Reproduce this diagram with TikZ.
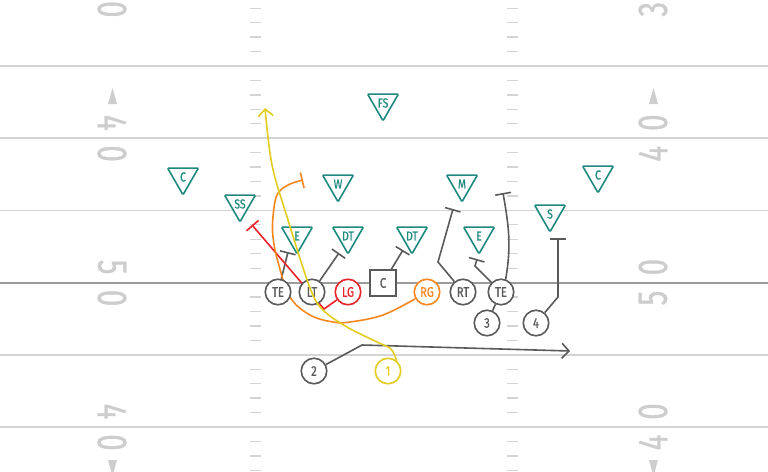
\documentclass[tikz,border=0pt]{standalone}
\usepackage{fontspec}
\setmainfont{Fira Sans}
\newfontfamily\labelfont[FakeStretch=0.8,FakeBold=0.6]{Fira Sans}
\newfontfamily\yardfont[FakeStretch=0.7,FakeBold=0.8]{Fira Sans}
\usepackage{xcolor}
\usetikzlibrary{positioning,arrows.meta,shapes.geometric,backgrounds}

\definecolor{fieldline}{HTML}{D4D4D4}
\definecolor{midline}{HTML}{9C9C9C}
\definecolor{yardnum}{HTML}{CDCDCD}
\definecolor{offgray}{HTML}{5A5A5A}
\definecolor{defteal}{HTML}{1E8A7F}
\definecolor{blockred}{HTML}{E8232B}
\definecolor{pullorange}{HTML}{F5871F}
\definecolor{qbyellow}{HTML}{E2CC1C}

\tikzset{
  player/.style={circle, draw=offgray, fill=white, line width=1.6pt,
    minimum size=25.5pt, inner sep=0pt, text=offgray,
    font=\labelfont\fontsize{14}{14}\selectfont},
  snapbox/.style={rectangle, draw=offgray, fill=white, line width=1.6pt,
    minimum size=25.5pt, inner sep=0pt, text=offgray,
    font=\labelfont\fontsize{14}{14}\selectfont},
  defender/.style={regular polygon, regular polygon sides=3,
    shape border rotate=180, draw=defteal, fill=white, line width=1.6pt,
    minimum size=35.5pt, inner sep=0pt, rounded corners=1pt, text=defteal,
    font=\labelfont\fontsize{13}{13}\selectfont},
  route/.style={draw=offgray, line width=1.6pt},
  block/.style={-{Bar[width=16pt,line width=1.6pt]}},
  runarrow/.style={-{Straight Barb[length=7pt,width=15pt,line width=1.6pt]}},
  yard/.style={text=yardnum, inner sep=0pt,
    font=\yardfont\fontsize{42}{42}\selectfont}
}

\begin{document}
\begin{tikzpicture}[x=1pt,y=-1pt]
    \useasboundingbox (0,0) rectangle (768,471);

    % Defence
    \node[defender] (fs)  at (383,103) {FS};
    \node[defender] (cbl) at (183,177) {C};
    \node[defender] (ss)  at (240,204) {SS};
    \node[defender] (wl)  at (338,184) {W};
    \node[defender] (ml)  at (462,184) {M};
    \node[defender] (cbr) at (598,175) {C};
    \node[defender] (sf)  at (550,214) {S};
    \node[defender] (el)  at (297,236) {E};
    \node[defender] (dtl) at (348,236) {DT};
    \node[defender] (dtr) at (412,236) {DT};
    \node[defender] (er)  at (479,236) {E};

    % Offence
    \node[player] (tel) at (278,292) {TE};
    \node[player] (lt)  at (312,292) {LT};
    \node[player, draw=blockred, text=blockred] (lg) at (348,292) {LG};
    \node[snapbox] (c)  at (383,283) {C};
    \node[player, draw=pullorange, text=pullorange] (rg) at (427,292) {RG};
    \node[player] (rt)  at (463,292) {RT};
    \node[player] (ter) at (501,292) {TE};
    \node[player] (n3)  at (487,323) {3};
    \node[player] (n4)  at (536,323) {4};
    \node[player] (n2)  at (314,371) {2};
    \node[player, draw=qbyellow, text=qbyellow] (n1) at (388,371) {1};

    % Field
    \begin{scope}[on background layer]
        \fill[white] (0,0) rectangle (768,471);
        \foreach \k in {0,...,6} {
            \pgfmathsetmacro{\y}{-6.2 + 72.2*\k}
            \foreach \j in {1,...,4} {
                \pgfmathsetmacro{\h}{\y + 14.44*\j}
                \draw[fieldline, line width=1.3pt] (250,\h) -- (261,\h);
                \draw[fieldline, line width=1.3pt] (507,\h) -- (518,\h);
            }
            \draw[fieldline, line width=1.8pt] (0,\y) -- (768,\y);
        }
        \draw[midline, line width=1.8pt] (0,282.6) -- (768,282.6);

        % Yard numbers
        \foreach \k/\a/\b in {0/3/0, 2/4/0, 4/5/0, 6/4/0} {
            \pgfmathsetmacro{\y}{-6.2 + 72.2*\k}
            \node[yard, rotate=-90] at (112,\y-15.5) {\a};
            \node[yard, rotate=-90] at (112,\y+15.5) {\b};
            \node[yard, rotate=90] at (653,\y+15.5) {\a};
            \node[yard, rotate=90] at (653,\y-15.5) {\b};
        }
        \foreach \x in {112.5,653.5} {
            \fill[yardnum] (\x-4.5,104) -- (\x+4.5,104) -- (\x,88) -- cycle;
            \fill[yardnum] (\x-4.5,460) -- (\x+4.5,460) -- (\x,476) -- cycle;
        }
    \end{scope}

    % Blocks and routes
    \begin{scope}[on background layer]
        \draw[route, block] (tel) -- (288,252);
        \draw[route, block] (lt) -- (339,253);
        \draw[route, block] (c) -- (403,250);
        \draw[route, block] (rt) -- (438,262) -- (453,209);
        \draw[route, block] (ter) -- (475,266) -- (477,259);
        \draw[route, block] (ter.70) to[out=80,in=-80] (503,193);
        \draw[route, block] (n4) -- (558,297) -- (558,238);
        \draw[route] (n3) -- (ter);
        \draw[route, runarrow] (n2) -- (362,345) -- (570,351);

        \draw[route, draw=blockred, block] (lg) -- (324,309) -- (252,225);
        \draw[route, draw=pullorange, block] plot[smooth, tension=0.6]
            coordinates {(rg.210) (383,315) (350,322) (333,322) (310,315)
                         (290,297) (278,262) (273,237) (273,217) (277,195)
                         (288,185) (303,180)};
    \end{scope}

    % Quarterback
    \draw[route, draw=qbyellow, runarrow] plot[smooth, tension=0.55]
        coordinates {(n1.50) (391,349) (377,342) (347,327) (323,310)
                     (310,288) (288,220) (272,165) (265,108)};
\end{tikzpicture}
\end{document}
